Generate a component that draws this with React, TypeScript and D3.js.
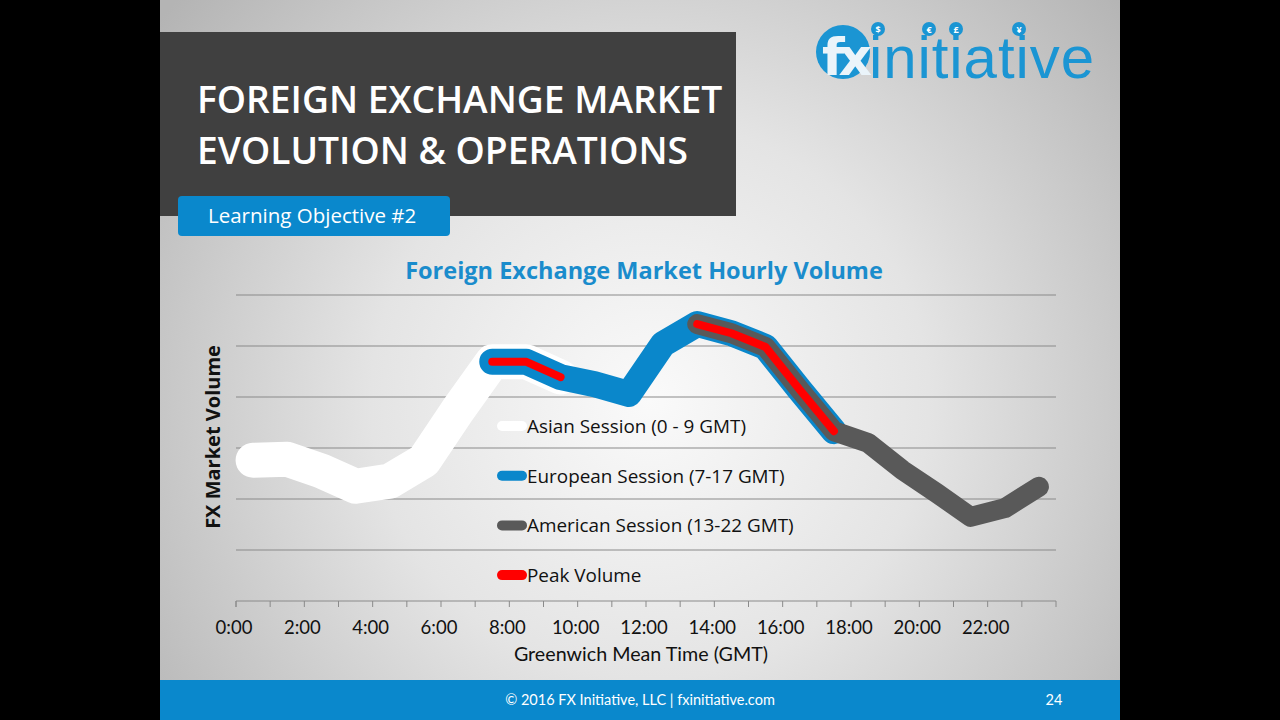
import { useRef, useEffect } from 'react';
import * as d3 from 'd3';

const HOURS = d3.range(0, 24);
const HOUR_LABELS = HOURS.filter((h) => h % 2 === 0).map((h) => `${h}:00`);

// volume per hour (relative units, gridline = 1), null = outside session
const ASIAN: (number | null)[] = [
  2.76, 2.78, 2.55, 2.25, 2.35, 2.75, 3.75, 4.69, 4.69, 4.39,
  null, null, null, null, null, null, null, null, null, null, null, null, null, null,
];
const EUROPEAN: (number | null)[] = [
  null, null, null, null, null, null, null,
  4.69, 4.69, 4.39, 4.25, 4.06, 5.04, 5.43, 5.25, 4.98, 4.14, 3.33,
  null, null, null, null, null, null,
];
const AMERICAN: (number | null)[] = [
  null, null, null, null, null, null, null, null, null, null, null, null, null,
  5.43, 5.25, 4.98, 4.14, 3.33, 3.1, 2.57, 2.12, 1.65, 1.82, 2.24,
];
const PEAK: (number | null)[] = [
  null, null, null, null, null, null, null,
  4.69, 4.69, 4.39,
  null, null, null,
  5.43, 5.25, 4.98, 4.14, 3.33,
  null, null, null, null, null, null,
];

const SERIES = [
  { label: 'Asian Session (0 - 9 GMT)', values: ASIAN, color: '#ffffff', width: 35 },
  { label: 'European Session (7-17 GMT)', values: EUROPEAN, color: '#0a87cb', width: 26 },
  { label: 'American Session (13-22 GMT)', values: AMERICAN, color: '#595959', width: 20 },
  { label: 'Peak Volume', values: PEAK, color: '#ff0000', width: 8 },
];

const HEADING = ['FOREIGN EXCHANGE MARKET', 'EVOLUTION & OPERATIONS'];
const CURRENCIES = [
  { x: 878, s: '$' },
  { x: 929, s: '€' },
  { x: 956, s: '£' },
  { x: 1019, s: '¥' },
];

const BLUE = '#0a88cc';
const SANS = "'Open Sans', 'DejaVu Sans', sans-serif";
const CHART_FONT = "Lato, 'Open Sans', sans-serif";

export default function App() {
  const svgRef = useRef<SVGSVGElement>(null);

  useEffect(() => {
    if (!svgRef.current) return;
    const svg = d3.select(svgRef.current);
    svg.selectAll('*').remove();

    const W = 1280;
    const H = 720;
    svg.attr('width', W).attr('height', H);

    // background
    const defs = svg.append('defs');
    const grad = defs
      .append('radialGradient')
      .attr('id', 'bg')
      .attr('gradientUnits', 'userSpaceOnUse')
      .attr('cx', 650)
      .attr('cy', 400)
      .attr('r', 620);
    grad.append('stop').attr('offset', 0).attr('stop-color', '#fafafa');
    grad.append('stop').attr('offset', 0.45).attr('stop-color', '#e4e4e4');
    grad.append('stop').attr('offset', 1).attr('stop-color', '#b4b4b4');

    svg.append('rect').attr('width', W).attr('height', H).attr('fill', '#000');
    svg.append('rect').attr('x', 160).attr('width', 960).attr('height', H).attr('fill', 'url(#bg)');

    // header box
    svg.append('rect').attr('x', 160).attr('y', 32).attr('width', 576).attr('height', 184).attr('fill', '#404040');
    HEADING.forEach((t, i) => {
      svg
        .append('text')
        .attr('x', 197)
        .attr('y', 113 + i * 51)
        .attr('fill', '#fff')
        .attr('font-family', SANS)
        .attr('font-weight', 600)
        .attr('font-size', 37.2)
        .text(t);
    });

    svg.append('rect').attr('x', 178).attr('y', 196).attr('width', 272).attr('height', 40).attr('rx', 4).attr('fill', BLUE);
    svg
      .append('text')
      .attr('x', 208)
      .attr('y', 223)
      .attr('fill', '#fff')
      .attr('font-family', SANS)
      .attr('font-size', 20.5)
      .text('Learning Objective #2');

    // logo
    const logo = svg.append('g');
    logo.append('circle').attr('cx', 843).attr('cy', 52).attr('r', 27).attr('fill', '#1b95d3');
    logo
      .append('text')
      .attr('x', 822)
      .attr('y', 75)
      .attr('fill', '#eaf4fa')
      .attr('font-family', "'DejaVu Sans', sans-serif")
      .attr('font-weight', 700)
      .attr('font-size', 52)
      .attr('letter-spacing', -6)
      .text('fx');
    logo
      .append('text')
      .attr('x', 869)
      .attr('y', 78)
      .attr('fill', '#1b95d3')
      .attr('font-family', "'Liberation Sans', sans-serif")
      .attr('font-size', 60)
      .attr('letter-spacing', -1)
      .attr('textLength', 224)
      .text('initiative');
    CURRENCIES.forEach((c) => {
      logo.append('circle').attr('cx', c.x).attr('cy', 29).attr('r', 7).attr('fill', '#1b95d3');
      logo
        .append('text')
        .attr('x', c.x)
        .attr('y', 32.5)
        .attr('text-anchor', 'middle')
        .attr('fill', '#fff')
        .attr('font-family', SANS)
        .attr('font-weight', 700)
        .attr('font-size', 9)
        .text(c.s);
    });

    // chart title
    svg
      .append('text')
      .attr('x', 644)
      .attr('y', 279)
      .attr('text-anchor', 'middle')
      .attr('fill', '#1a8ccc')
      .attr('font-family', SANS)
      .attr('font-weight', 700)
      .attr('font-size', 23.5)
      .text('Foreign Exchange Market Hourly Volume');

    // scales
    const x = d3.scaleBand<number>().domain(HOURS).range([236, 1056]).paddingInner(0).paddingOuter(0);
    const y = d3.scaleLinear().domain([0, 6]).range([601, 295]);
    const cx = (h: number) => (x(h) ?? 0) + x.bandwidth() / 2;

    // grid
    svg
      .append('g')
      .selectAll('line')
      .data(d3.range(1, 7))
      .join('line')
      .attr('x1', 236)
      .attr('x2', 1056)
      .attr('y1', (d) => y(d))
      .attr('y2', (d) => y(d))
      .attr('stroke', '#8a8a8a')
      .attr('stroke-width', 1.2);

    // x axis
    const xAxisG = svg
      .append('g')
      .attr('transform', `translate(0,${y(0)})`)
      .call(d3.axisBottom(x).tickSize(6).tickFormat(() => ''));
    xAxisG.selectAll('.domain').attr('stroke', '#8a8a8a').attr('d', 'M236,6V0H1056V6');
    xAxisG.selectAll('.tick line').attr('stroke', '#8a8a8a').attr('transform', `translate(${-x.bandwidth() / 2},0)`);

    svg
      .append('g')
      .selectAll('text')
      .data(HOUR_LABELS)
      .join('text')
      .attr('x', (_d, i) => (x(i * 2) ?? 0) - 2)
      .attr('y', 634)
      .attr('text-anchor', 'middle')
      .attr('fill', '#111')
      .attr('font-family', CHART_FONT)
      .attr('font-size', 18.5)
      .text((d) => d);

    svg
      .append('text')
      .attr('x', 641)
      .attr('y', 661)
      .attr('text-anchor', 'middle')
      .attr('fill', '#111')
      .attr('font-family', CHART_FONT)
      .attr('font-size', 19.7)
      .text('Greenwich Mean Time (GMT)');

    svg
      .append('text')
      .attr('transform', 'translate(220,437) rotate(-90)')
      .attr('text-anchor', 'middle')
      .attr('fill', '#111')
      .attr('font-family', SANS)
      .attr('font-weight', 700)
      .attr('font-size', 20)
      .text('FX Market Volume');

    // lines
    const line = d3
      .line<number | null>()
      .defined((d) => d != null)
      .x((_d, i) => cx(i))
      .y((d) => y(d as number));

    for (const s of SERIES) {
      svg
        .append('path')
        .datum(s.values)
        .attr('fill', 'none')
        .attr('stroke', s.color)
        .attr('stroke-width', s.width)
        .attr('stroke-linecap', 'round')
        .attr('stroke-linejoin', 'round')
        .attr('d', line);
    }

    // legend
    SERIES.forEach((s, i) => {
      const ly = 426 + i * 49.7;
      svg
        .append('line')
        .attr('x1', 502)
        .attr('x2', 522)
        .attr('y1', ly)
        .attr('y2', ly)
        .attr('stroke', s.color)
        .attr('stroke-width', 10)
        .attr('stroke-linecap', 'round');
      svg
        .append('text')
        .attr('x', 527)
        .attr('y', ly)
        .attr('dominant-baseline', 'central')
        .attr('fill', '#111')
        .attr('font-family', SANS)
        .attr('font-size', 18.9)
        .text(s.label);
    });

    // footer
    svg.append('rect').attr('x', 160).attr('y', 680).attr('width', 960).attr('height', 40).attr('fill', BLUE);
    svg
      .append('text')
      .attr('x', 640)
      .attr('y', 705)
      .attr('text-anchor', 'middle')
      .attr('fill', '#fff')
      .attr('font-family', CHART_FONT)
      .attr('font-size', 14.5)
      .text('© 2016 FX Initiative, LLC | fxinitiative.com');
    svg
      .append('text')
      .attr('x', 1054)
      .attr('y', 705)
      .attr('text-anchor', 'middle')
      .attr('fill', '#fff')
      .attr('font-family', CHART_FONT)
      .attr('font-size', 14.5)
      .text('24');
  }, []);

  return <svg ref={svgRef} style={{ position: 'fixed', left: 0, top: 0 }} />;
}
